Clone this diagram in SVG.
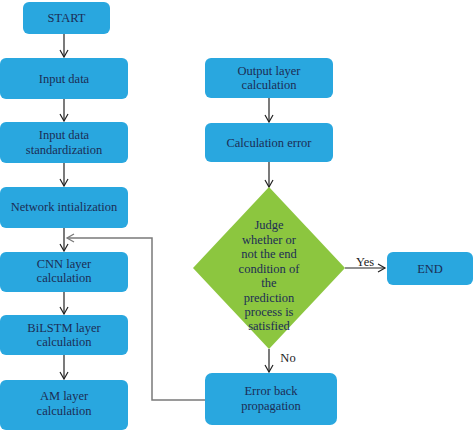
<svg xmlns="http://www.w3.org/2000/svg" width="474" height="432" viewBox="0 0 474 432">
<style>
.box{fill:#29a7df;}
.dia{fill:#8cc63f;}
text{font-family:"Liberation Serif","Times New Roman",serif;font-size:12.5px;fill:#1c2d55;text-anchor:middle;}
.lbl{fill:#222;}
.ln{stroke:#222;stroke-width:1.2;fill:none;}
.fb{stroke:#7a7a7a;stroke-width:1.5;fill:none;}
</style>
<defs>
<marker id="ah" markerWidth="10" markerHeight="10" refX="8" refY="5" orient="auto" markerUnits="userSpaceOnUse">
<path d="M1,1 L8,5 L1,9" fill="none" stroke="#222" stroke-width="1.2"/>
</marker>
<marker id="ahg" markerWidth="10" markerHeight="10" refX="8" refY="5" orient="auto" markerUnits="userSpaceOnUse">
<path d="M1,1 L8,5 L1,9" fill="none" stroke="#7a7a7a" stroke-width="1.3"/>
</marker>
</defs>
<g id="connectors">
<line class="ln" x1="64" y1="34" x2="64" y2="57" marker-end="url(#ah)"/>
<line class="ln" x1="64" y1="99" x2="64" y2="121" marker-end="url(#ah)"/>
<line class="ln" x1="64" y1="163" x2="64" y2="186" marker-end="url(#ah)"/>
<line class="ln" x1="64" y1="228" x2="64" y2="251" marker-end="url(#ah)"/>
<line class="ln" x1="64" y1="292" x2="64" y2="314" marker-end="url(#ah)"/>
<line class="ln" x1="64" y1="355" x2="64" y2="379" marker-end="url(#ah)"/>
<line class="ln" x1="269" y1="98" x2="269" y2="122" marker-end="url(#ah)"/>
<line class="ln" x1="269" y1="162" x2="269" y2="187" marker-end="url(#ah)"/>
<line class="ln" x1="345" y1="268" x2="385" y2="268" marker-end="url(#ah)"/>
<line class="ln" x1="269" y1="349" x2="269" y2="372" marker-end="url(#ah)"/>
<polyline class="fb" points="205,400 152,400 152,238 67,238" marker-end="url(#ahg)"/>
<text class="lbl" x="365" y="266">Yes</text>
<text class="lbl" x="288" y="362">No</text>
</g>
<g id="start"><rect class="box" x="23" y="2" width="87" height="32" rx="6"/><text x="66.5" y="22">START</text></g>
<g id="input"><rect class="box" x="0" y="58" width="128" height="41" rx="6"/><text x="64" y="83">Input data</text></g>
<g id="standard"><rect class="box" x="0" y="122" width="128" height="41" rx="6"/><text x="64" y="139">Input data</text><text x="64" y="154">standardization</text></g>
<g id="netinit"><rect class="box" x="0" y="187" width="128" height="41" rx="6"/><text x="64" y="211">Network intialization</text></g>
<g id="cnn"><rect class="box" x="0" y="252" width="128" height="40" rx="6"/><text x="64" y="268">CNN layer</text><text x="64" y="282">calculation</text></g>
<g id="bilstm"><rect class="box" x="0" y="315" width="128" height="40" rx="6"/><text x="64" y="332">BiLSTM layer</text><text x="64" y="346">calculation</text></g>
<g id="am"><rect class="box" x="0" y="380" width="128" height="50" rx="6"/><text x="64" y="400">AM layer</text><text x="64" y="415">calculation</text></g>
<g id="output"><rect class="box" x="205" y="58" width="128" height="40" rx="6"/><text x="269" y="75">Output layer</text><text x="269" y="89">calculation</text></g>
<g id="calcerr"><rect class="box" x="205" y="123" width="128" height="39" rx="6"/><text x="269" y="147">Calculation error</text></g>
<g id="judge"><polygon class="dia" points="269,187 345,268 269,349 193,268"/>
<text x="269" y="229">Judge</text><text x="269" y="243.5">whether or</text><text x="269" y="258">not the end</text><text x="269" y="272.5">condition of</text><text x="269" y="287">the</text><text x="269" y="301.5">prediction</text><text x="269" y="316">process is</text><text x="269" y="330">satisfied</text></g>
<g id="end"><rect class="box" x="387" y="252" width="86" height="33" rx="6"/><text x="430" y="273">END</text></g>
<g id="errback"><rect class="box" x="205" y="373" width="132" height="52" rx="7"/><text x="271" y="395">Error back</text><text x="271" y="410">propagation</text></g>
</svg>
